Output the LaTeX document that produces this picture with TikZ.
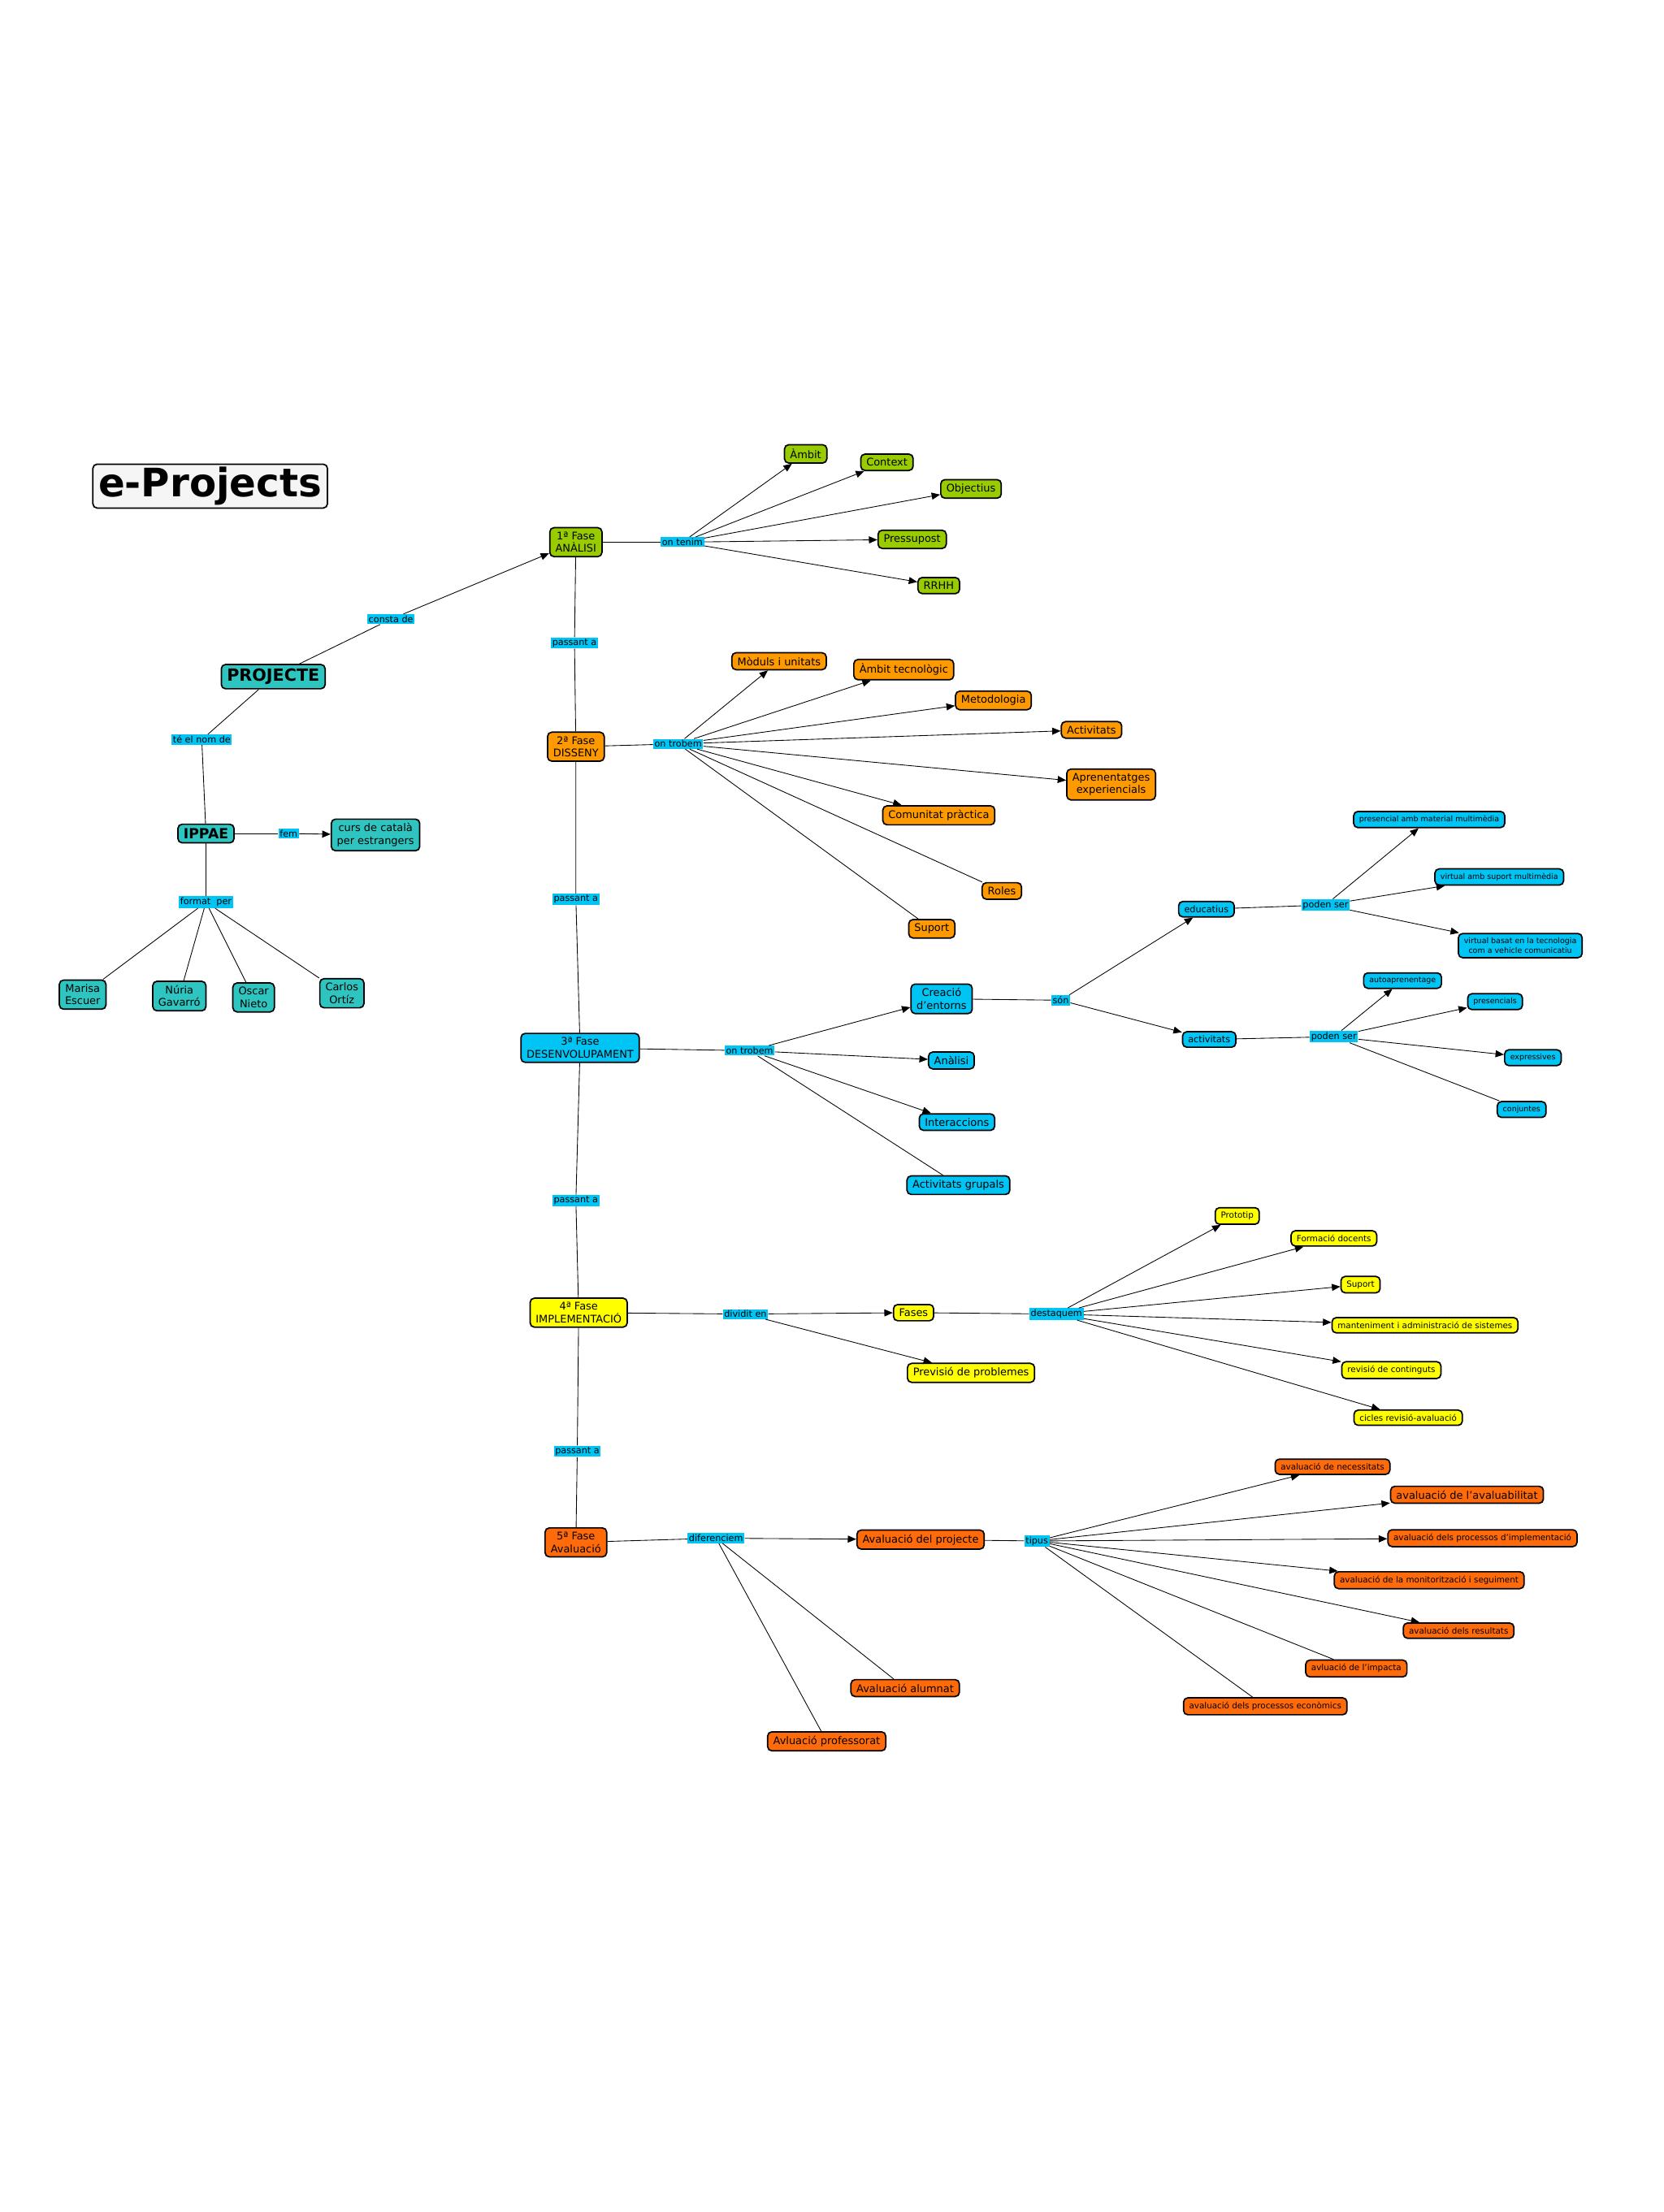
\documentclass[tikz,border=0pt]{standalone}
\usepackage{fontspec}
\setmainfont{DejaVu Sans}
\usetikzlibrary{arrows.meta}
\definecolor{tl}{HTML}{2EC4C0}
\definecolor{gr}{HTML}{99CC00}
\definecolor{orn}{HTML}{FF9900}
\definecolor{bl}{HTML}{00C4F4}
\definecolor{ye}{HTML}{FFFF00}
\definecolor{rd}{HTML}{FF6A0A}
\tikzset{
 box/.style={draw=black,line width=1pt,rounded corners=3pt,align=center,font=\fontsize{7.5}{9}\selectfont,inner xsep=4pt,inner ysep=3pt},
 sbox/.style={box,font=\fontsize{5.5}{7}\selectfont},
 lab/.style={fill=bl,inner sep=1pt,font=\fontsize{6.5}{7}\selectfont},
 ln/.style={draw=black,line width=0.5pt},
 ar/.style={ln,-{Triangle[length=6pt,width=5pt]}}
}
\begin{document}
\begin{tikzpicture}[x=1pt,y=-1pt]
\useasboundingbox[fill=white] (0,0) rectangle (1187,1579);
% teal part
\node[box,fill=black!4,font=\bfseries\fontsize{28}{30}\selectfont,inner ysep=2pt] (title) at (150,347) {e-Projects};
\node[box,fill=tl,font=\bfseries\fontsize{12}{14}\selectfont] (proj) at (195,483) {PROJECTE};
\node[box,fill=tl,font=\bfseries\fontsize{10}{12}\selectfont] (ippae) at (147,595) {IPPAE};
\node[box,fill=tl] (curs) at (268,596) {curs de català\\per estrangers};
\node[box,fill=tl] (mar) at (59,710) {Marisa\\Escuer};
\node[box,fill=tl] (nur) at (128,711) {Núria\\Gavarró};
\node[box,fill=tl] (osc) at (181,712) {Oscar\\Nieto};
\node[box,fill=tl] (car) at (244,709) {Carlos\\Ortíz};
\node[lab] (lconsta) at (279,442) {consta de};
\node[lab] (lnom) at (144,528) {té el nom de};
\node[lab] (lfem) at (206,595) {fem};
\node[lab] (lform) at (147,644) {format\ \ per};
% phases
\node[box,fill=gr] (f1) at (411,387) {1ª Fase\\ANÀLISI};
\node[box,fill=orn] (f2) at (411,533) {2ª Fase\\DISSENY};
\node[box,fill=bl] (f3) at (414,748) {3ª Fase\\DESENVOLUPAMENT};
\node[box,fill=ye] (f4) at (413,937) {4ª Fase\\IMPLEMENTACIÓ};
\node[box,fill=rd] (f5) at (411,1101) {5ª Fase\\Avaluació};
\node[lab] (p1) at (410,459) {passant a};
\node[lab] (p2) at (411,642) {passant a};
\node[lab] (p3) at (411,857) {passant a};
\node[lab] (p4) at (412,1036) {passant a};
\draw[ln] (proj) -- (lnom); \draw[ln] (lnom) -- (ippae);
\draw[ln] (proj) -- (lconsta); \draw[ar] (lconsta) -- (f1);
\draw[ln] (ippae) -- (lfem); \draw[ar] (lfem) -- (curs);
\draw[ln] (ippae) -- (lform);
\foreach \t in {mar,nur,osc,car} \draw[ln] (lform) -- (\t);
\draw[ln] (f1) -- (p1) -- (f2);
\draw[ln] (f2) -- (p2) -- (f3);
\draw[ln] (f3) -- (p3) -- (f4);
\draw[ln] (f4) -- (p4) -- (f5);
% phase 1
\node[lab] (ontenim) at (487,387) {on tenim};
\node[box,fill=gr] (a1) at (575,324) {Àmbit};
\node[box,fill=gr] (a2) at (633,330) {Context};
\node[box,fill=gr] (a3) at (693,349) {Objectius};
\node[box,fill=gr] (a4) at (651,385) {Pressupost};
\node[box,fill=gr] (a5) at (670,418) {RRHH};
\draw[ln] (f1) -- (ontenim);
\foreach \t in {a1,a2,a3,a4,a5} \draw[ar] (ontenim) -- (\t);
% phase 2
\node[lab] (ontrob) at (484,531) {on trobem};
\node[box,fill=orn] (d1) at (556,472) {Mòduls i unitats};
\node[box,fill=orn] (d2) at (645,478) {Àmbit tecnològic};
\node[box,fill=orn] (d3) at (709,500) {Metodologia};
\node[box,fill=orn] (d4) at (779,521) {Activitats};
\node[box,fill=orn] (d5) at (793,560) {Aprenentatges\\experiencials};
\node[box,fill=orn] (d6) at (670,582) {Comunitat pràctica};
\node[box,fill=orn] (d7) at (715,636) {Roles};
\node[box,fill=orn] (d8) at (665,663) {Suport};
\draw[ln] (f2) -- (ontrob);
\foreach \t in {d1,d2,d3,d4,d5,d6} \draw[ar] (ontrob) -- (\t);
\draw[ln] (ontrob) -- (d7); \draw[ln] (ontrob) -- (d8);
% phase 3
\node[lab] (ontrob3) at (535,750) {on trobem};
\node[box,fill=bl] (c1) at (672,713) {Creació\\d'entorns};
\node[box,fill=bl] (c2) at (679,757) {Anàlisi};
\node[box,fill=bl] (c3) at (683,801) {Interaccions};
\node[box,fill=bl] (c4) at (684,846) {Activitats grupals};
\draw[ln] (f3) -- (ontrob3);
\foreach \t in {c1,c2,c3} \draw[ar] (ontrob3) -- (\t);
\draw[ln] (ontrob3) -- (c4);
\node[lab] (son) at (757,714) {són};
\node[box,fill=bl,font=\fontsize{6.5}{8}\selectfont] (edu) at (861,649) {educatius};
\node[box,fill=bl,font=\fontsize{6.5}{8}\selectfont] (act) at (863,742) {activitats};
\draw[ln] (c1) -- (son); \draw[ar] (son) -- (edu); \draw[ar] (son) -- (act);
\node[lab] (ps1) at (946,646) {poden ser};
\node[lab] (ps2) at (952,740) {poden ser};
\draw[ln] (edu) -- (ps1); \draw[ln] (act) -- (ps2);
\node[sbox,fill=bl] (e1) at (1020,585) {presencial amb material multimèdia};
\node[sbox,fill=bl] (e2) at (1070,626) {virtual amb suport multimèdia};
\node[sbox,fill=bl] (e3) at (1085,675) {virtual basat en la tecnologia\\com a vehicle comunicatiu};
\foreach \t in {e1,e2,e3} \draw[ar] (ps1) -- (\t);
\node[sbox,fill=bl] (g1) at (1001,700) {autoaprenentage};
\node[sbox,fill=bl] (g2) at (1067,715) {presencials};
\node[sbox,fill=bl] (g3) at (1094,755) {expressives};
\node[sbox,fill=bl] (g4) at (1086,792) {conjuntes};
\foreach \t in {g1,g2,g3} \draw[ar] (ps2) -- (\t);
\draw[ln] (ps2) -- (g4);
% phase 4
\node[lab] (div) at (532,938) {dividit en};
\node[box,fill=ye] (fases) at (652,937) {Fases};
\node[box,fill=ye] (prev) at (693,980) {Previsió de problemes};
\draw[ln] (f4) -- (div); \draw[ar] (div) -- (fases); \draw[ar] (div) -- (prev);
\node[lab] (dest) at (754,938) {destaquem};
\draw[ln] (fases) -- (dest);
\node[sbox,fill=ye,font=\fontsize{6}{7}\selectfont] (i1) at (883,868) {Prototip};
\node[sbox,fill=ye,font=\fontsize{6}{7}\selectfont] (i2) at (952,884) {Formació docents};
\node[sbox,fill=ye,font=\fontsize{6}{7}\selectfont] (i3) at (971,917) {Suport};
\node[sbox,fill=ye,font=\fontsize{6}{7}\selectfont] (i4) at (1017,946) {manteniment i administració de sistemes};
\node[sbox,fill=ye,font=\fontsize{6}{7}\selectfont] (i5) at (993,978) {revisió de continguts};
\node[sbox,fill=ye,font=\fontsize{6}{7}\selectfont] (i6) at (1005,1012) {cicles revisió-avaluació};
\foreach \t in {i1,i2,i3,i4,i5,i6} \draw[ar] (dest) -- (\t);
% phase 5
\node[lab] (dif) at (511,1098) {diferenciem};
\node[box,fill=rd] (avp) at (657,1099) {Avaluació del projecte};
\node[box,fill=rd] (ava) at (646,1205) {Avaluació alumnat};
\node[box,fill=rd] (avpr) at (590,1243) {Avluació professorat};
\draw[ln] (f5) -- (dif); \draw[ar] (dif) -- (avp);
\draw[ln] (dif) -- (ava); \draw[ln] (dif) -- (avpr);
\node[lab] (tip) at (740,1100) {tipus};
\draw[ln] (avp) -- (tip);
\node[sbox,fill=rd,font=\fontsize{6}{7}\selectfont] (t1) at (951,1047) {avaluació de necessitats};
\node[box,fill=rd] (t2) at (1047,1067) {avaluació de l'avaluabilitat};
\node[sbox,fill=rd,font=\fontsize{6}{7}\selectfont] (t3) at (1058,1098) {avaluació dels processos d'implementació};
\node[sbox,fill=rd,font=\fontsize{6}{7}\selectfont] (t4) at (1020,1128) {avaluació de la monitorització i seguiment};
\node[sbox,fill=rd,font=\fontsize{6}{7}\selectfont] (t5) at (1041,1164) {avaluació dels resultats};
\node[sbox,fill=rd,font=\fontsize{6}{7}\selectfont] (t6) at (968,1191) {avluació de l'impacta};
\node[sbox,fill=rd,font=\fontsize{6}{7}\selectfont] (t7) at (903,1218) {avaluació dels processos econòmics};
\foreach \t in {t1,t2,t3,t4,t5} \draw[ar] (tip) -- (\t);
\draw[ln] (tip) -- (t6); \draw[ln] (tip) -- (t7);
\end{tikzpicture}
\end{document}
